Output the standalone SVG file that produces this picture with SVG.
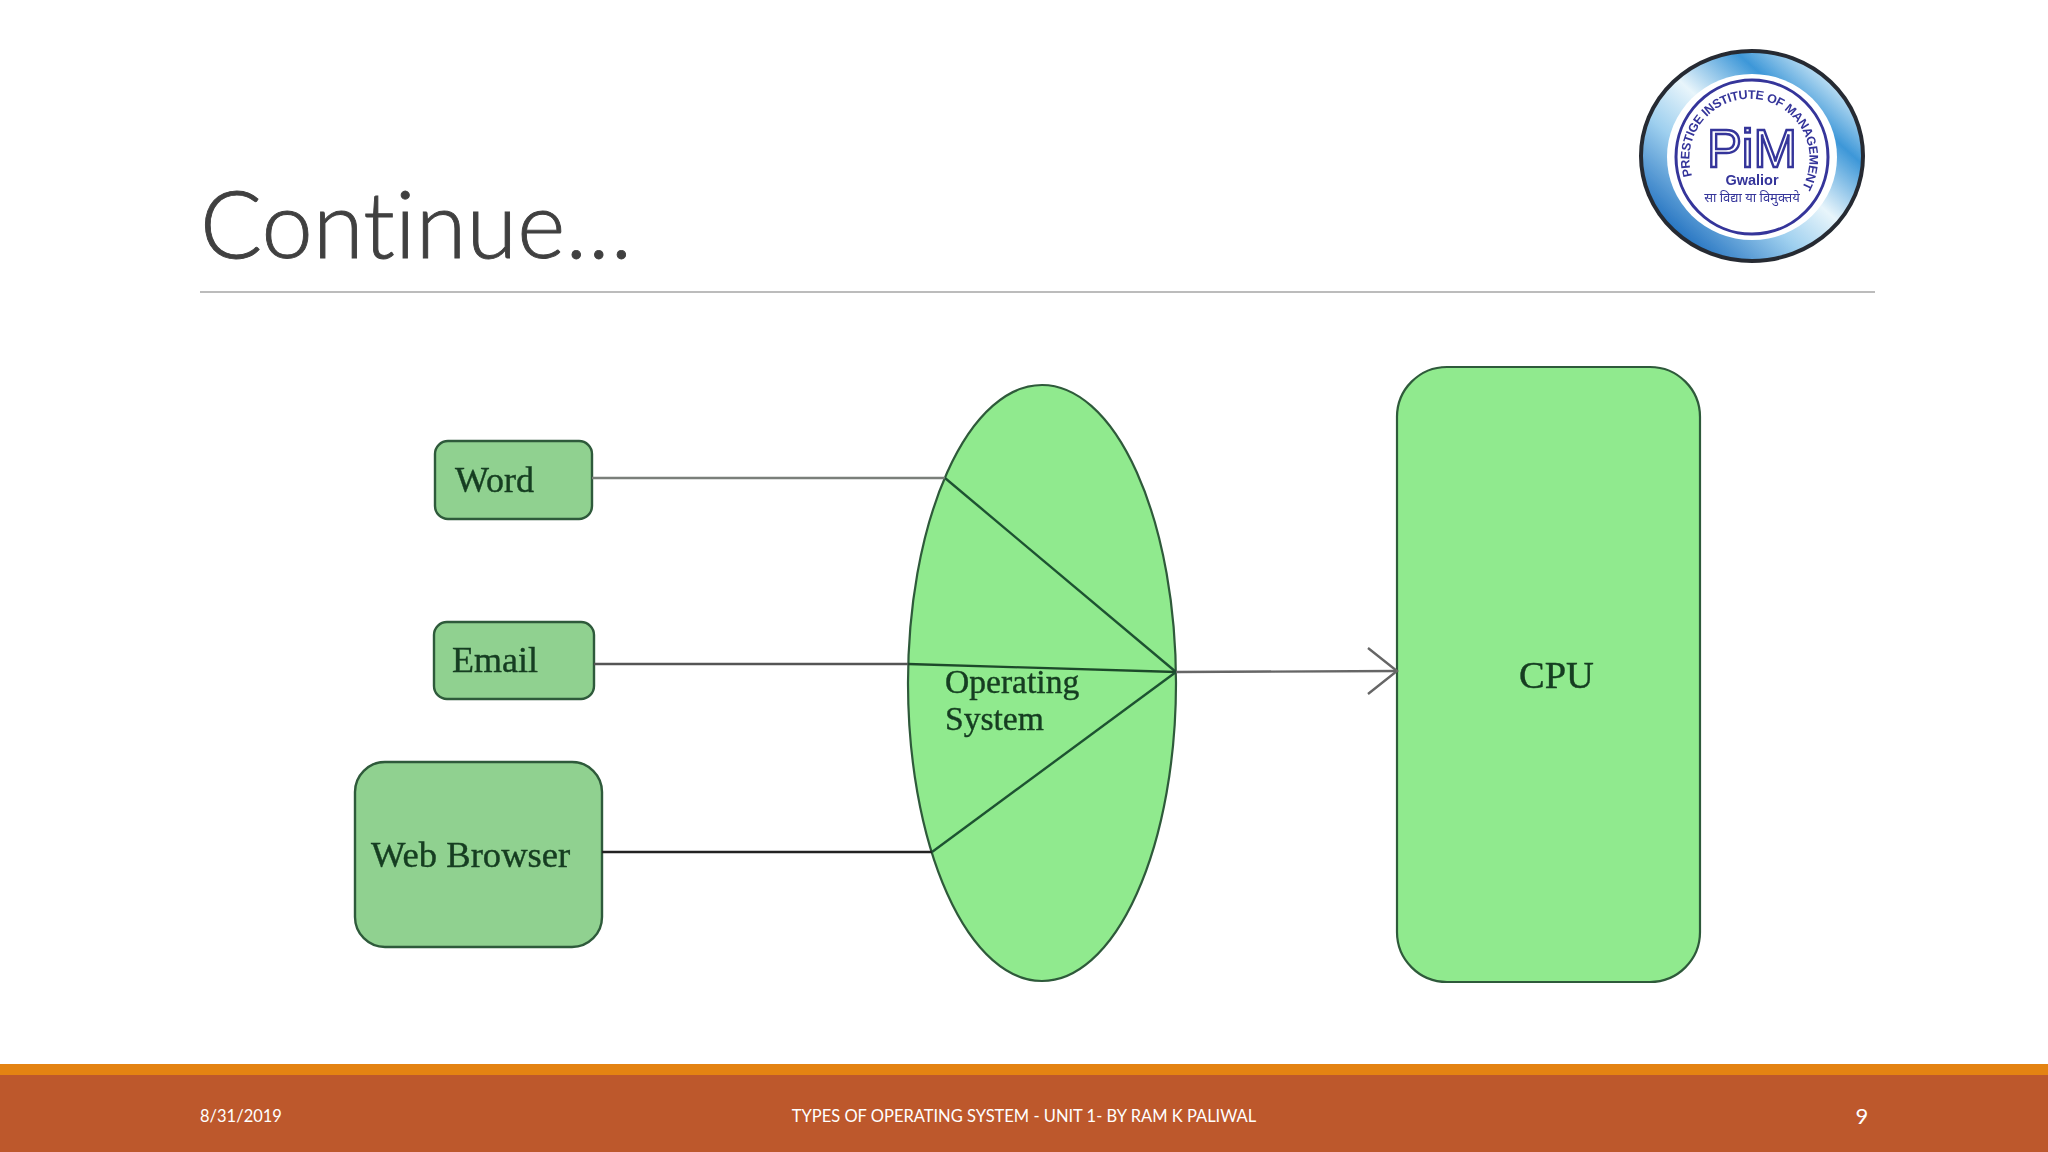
<svg xmlns="http://www.w3.org/2000/svg" width="2048" height="1152" viewBox="0 0 2048 1152">
<style>
.n{fill:#90ea8e;stroke:#2f5a3a;stroke-width:2.2}
.d{fill:#90d190;stroke:#2f5a3a;stroke-width:2.4}
.c{fill:none;stroke-width:2.4}
.l{font-family:"Liberation Serif",serif;fill:#143c20;stroke:#143c20;stroke-width:.4}
.f{font-family:Lato,"Liberation Sans",sans-serif;font-size:16.5px;fill:#fff}
.b{filter:url(#soft)}
.r{font-family:"Liberation Sans",sans-serif;font-weight:bold;fill:#34349a}
</style>
<defs>
<filter id="soft" x="-2%" y="-2%" width="104%" height="104%"><feGaussianBlur stdDeviation=".6"/></filter>
<linearGradient id="ring" x1="0.1" y1="0.9" x2="0.85" y2="0.1"><stop offset="0" stop-color="#0e62b8"/><stop offset=".35" stop-color="#9fd0ef"/><stop offset=".55" stop-color="#e8f5fb"/><stop offset=".8" stop-color="#3d97d8"/><stop offset="1" stop-color="#cfe9f7"/></linearGradient>
<path id="arc" d="M1692 176A60 60 0 1 1 1790 203"/>
</defs>
<rect width="2048" height="1152" fill="#fff"/>
<text x="200" y="258" font-family="Lato,'Open Sans',sans-serif" font-weight="300" font-size="92" fill="#404040" stroke="#404040" stroke-width=".9" style="font-variant-ligatures:none" textLength="432" lengthAdjust="spacing">Continue…</text>
<line x1="200" y1="292" x2="1875" y2="292" stroke="#a6a6a6" stroke-width="1.5"/>
<g class="b">
<g id="os"><ellipse class="n" cx="1042" cy="683" rx="134" ry="298"/><text class="l" font-size="33.6" x="945" y="693">Operating</text><text class="l" font-size="33.6" x="945" y="730">System</text></g>
<g id="cpu"><rect class="n" x="1397" y="367" width="303" height="615" rx="50"/><text class="l" font-size="38.5" x="1519" y="688">CPU</text></g>
<g id="word"><rect class="d" x="435" y="441" width="157" height="78" rx="13"/><text class="l" font-size="36" x="455" y="492">Word</text></g>
<g id="email"><rect class="d" x="434" y="622" width="160" height="77" rx="13"/><text class="l" font-size="36" x="452" y="672">Email</text></g>
<g id="web"><rect class="d" x="355" y="762" width="247" height="185" rx="30"/><text class="l" font-size="36.6" x="371" y="867">Web Browser</text></g>
<g id="connectors">
<path class="c" stroke="#7a7f7a" stroke-width="3" d="M592 478H945"/>
<path class="c" stroke="#1f5230" d="M945 478L1176 672"/>
<path class="c" stroke="#555" stroke-width="3" d="M594 664H908"/>
<path class="c" stroke="#1f4a2a" d="M908 664L1176 672"/>
<path class="c" stroke="#222" d="M602 852H932"/>
<path class="c" stroke="#1f5230" d="M932 852L1176 672"/>
<path class="c" stroke="#666" stroke-width="3" d="M1176 672L1397 671"/>
<path class="c" stroke="#666" d="M1368 648L1397 671L1368 694"/>
</g>
</g>
<g id="logo" class="b">
<ellipse cx="1752" cy="156" rx="111" ry="105" fill="url(#ring)" stroke="#262b33" stroke-width="4"/>
<ellipse cx="1752" cy="157" rx="85" ry="83" fill="#fff"/>
<ellipse cx="1752" cy="157" rx="76" ry="77" fill="#fff" stroke="#34349a" stroke-width="3"/>
<text font-family="'Liberation Sans Narrow','Liberation Sans',sans-serif" font-weight="bold" fill="#34349a" font-size="12.5" letter-spacing="-.35"><textPath href="#arc">PRESTIGE INSTITUTE OF MANAGEMENT</textPath></text>
<text x="1707" y="167" textLength="90" lengthAdjust="spacingAndGlyphs" font-family="'Liberation Sans',sans-serif" font-size="54" fill="#fff" stroke="#34349a" stroke-width="2.5">PiM</text>
<text class="r" x="1752" y="185" text-anchor="middle" font-size="14.5">Gwalior</text>
<text x="1752" y="202" text-anchor="middle" font-family="'Noto Sans',sans-serif" font-size="13" fill="#34349a">सा विद्या या विमुक्तये</text>
</g>
<rect y="1064" width="2048" height="11" fill="#e48312"/><rect y="1075" width="2048" height="77" fill="#bd582c"/>
<text class="f" x="200" y="1122">8/31/2019</text><text class="f" x="1024" y="1122" text-anchor="middle">TYPES OF OPERATING SYSTEM - UNIT 1- BY RAM K PALIWAL</text><text x="1862" y="1124" text-anchor="middle" font-family="Lato,sans-serif" font-size="22" fill="#fff">9</text>
</svg>
